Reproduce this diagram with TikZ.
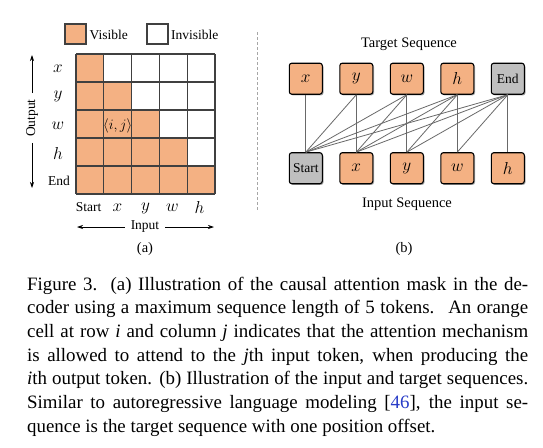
\documentclass[tikz,border=0pt]{standalone}
\usepackage{fontspec}
\setmainfont{Liberation Serif}
\usetikzlibrary{arrows.meta,shadows}
\definecolor{org}{RGB}{244,177,131}
\definecolor{boxgray}{RGB}{191,191,191}
\definecolor{gridc}{RGB}{64,64,64}
\definecolor{linkc}{RGB}{105,105,105}
\definecolor{citec}{RGB}{40,60,200}
\begin{document}
\begin{tikzpicture}[x=1pt,y=-1pt,
  lbl/.style={font=\fontsize{13.5}{15}\selectfont, inner sep=0pt},
  slbl/.style={font=\fontsize{14.5}{16}\selectfont, inner sep=0pt},
  mlbl/.style={font=\fontsize{16}{18}\selectfont, inner sep=0pt},
  legbox/.style={draw=gridc, line width=1.5pt, minimum width=21pt, minimum height=20pt, inner sep=0pt},
  tok/.style={draw=black, line width=1.1pt, rounded corners=2.5pt, minimum width=33pt, minimum height=31pt, inner sep=0pt, fill=org, drop shadow={shadow xshift=1.2pt, shadow yshift=-1.2pt, opacity=0.35, fill=black}},
  tokg/.style={tok, fill=boxgray},
  link/.style={draw=linkc, line width=0.8pt},
  arr/.style={-{Stealth[length=6pt,width=4pt]}, line width=0.7pt},
]
\useasboundingbox (0,0) rectangle (543,447);
\fill[white] (0,0) rectangle (543,447);

% ---------- (a) ----------
\node[legbox, fill=org] (lv) at (75.5,34) {};
\node[lbl, anchor=west] (lvt) at (89.5,35) {Visible};
\node[legbox, fill=white] (li) at (157.5,34) {};
\node[lbl, anchor=west] (lit) at (171,35) {Invisible};

\foreach \r in {0,...,4}{
  \foreach \c in {0,...,4}{
    \ifnum\c>\r\relax\else
      \fill[org] (76+27.8*\c,54+28*\r) rectangle (76+27.8*\c+27.8,54+28*\r+28);
    \fi
  }
}
\foreach \i in {0,...,5}{
  \draw[gridc, line width=1.3pt] (76+27.8*\i,54) -- (76+27.8*\i,194);
  \draw[gridc, line width=1.3pt] (76,54+28*\i) -- (215,54+28*\i);
}
\node[font=\fontsize{14}{16}\selectfont, inner sep=0pt] (ij) at (117.7,126) {$\langle i,j\rangle$};

\node[mlbl] (rx) at (58,69) {$x$};
\node[mlbl] (ry) at (58,96) {$y$};
\node[mlbl] (rw) at (58,126) {$w$};
\node[mlbl] (rh) at (58,153) {$h$};
\node[lbl] (rend) at (59,181) {End};

\node[lbl] (cs) at (88.5,207) {Start};
\node[mlbl] (cx) at (117.5,208) {$x$};
\node[mlbl] (cy) at (145.5,208) {$y$};
\node[mlbl] (cw) at (172.5,208) {$w$};
\node[mlbl] (ch) at (199.5,207) {$h$};

\node[lbl, inner xsep=6pt] (inp) at (145,227) {Input};
\coordinate (inl) at (77,227);
\coordinate (inr) at (214,227);
\draw[arr] (inp.west) -- (inl);
\draw[arr] (inp.east) -- (inr);

\node[lbl, rotate=90, inner xsep=6pt] (outp) at (32,118) {Output};
\coordinate (outt) at (32,55);
\coordinate (outb) at (32,188);
\draw[arr] (outp.east) -- (outt);
\draw[arr] (outp.west) -- (outb);

\node[slbl] (capa) at (145,249) {(a)};

% separator
\coordinate (sept) at (257,32);
\coordinate (sepb) at (257,210);
\draw[gray!70, line width=0.8pt, dash pattern=on 3pt off 2pt] (sept) -- (sepb);

% ---------- (b) ----------
\node[slbl] (tseq) at (409,44) {Target Sequence};
\node[slbl] (iseq) at (407,204) {Input Sequence};
\node[slbl] (capb) at (404,249) {(b)};

\node[tok] (t0) at (305.8,78.7) {\fontsize{16.5}{18}\selectfont$x$};
\node[tok] (t1) at (356.3,78.7) {\fontsize{16.5}{18}\selectfont$y$};
\node[tok] (t2) at (406.8,78.7) {\fontsize{16.5}{18}\selectfont$w$};
\node[tok] (t3) at (457.3,78.7) {\fontsize{16.5}{18}\selectfont$h$};
\node[tokg] (t4) at (507.8,78.7) {\fontsize{13.5}{15}\selectfont End};

\node[tokg] (b0) at (305.8,168.2) {\fontsize{13.5}{15}\selectfont Start};
\node[tok] (b1) at (356.3,168.2) {\fontsize{16.5}{18}\selectfont$x$};
\node[tok] (b2) at (406.8,168.2) {\fontsize{16.5}{18}\selectfont$y$};
\node[tok] (b3) at (457.3,168.2) {\fontsize{16.5}{18}\selectfont$w$};
\node[tok] (b4) at (507.8,168.2) {\fontsize{16.5}{18}\selectfont$h$};

\foreach \t in {0,...,4}{
  \foreach \b in {0,...,\t}{
    \draw[link] (t\t.south) -- (b\b.north);
  }
}

% ---------- caption ----------
\node[anchor=north west, inner sep=0pt, text width=501pt, align=justify,
      font=\fontsize{18.9}{23.7}\selectfont] (cap) at (27,276.5) {%
Figure 3.\ \ (a) Illustration of the causal attention mask in the de-\linebreak
coder using a maximum sequence length of 5 tokens. \ An orange\linebreak
cell at row \textit{i} and column \textit{j} indicates that the attention mechanism\linebreak
is allowed to attend to the \textit{j}th input token, when producing the\linebreak
\textit{i}th output token. (b) Illustration of the input and target sequences.\linebreak
Similar to autoregressive language modeling [\textcolor{citec}{46}], the input se-\linebreak
quence is the target sequence with one position offset.};
\end{tikzpicture}
\end{document}
